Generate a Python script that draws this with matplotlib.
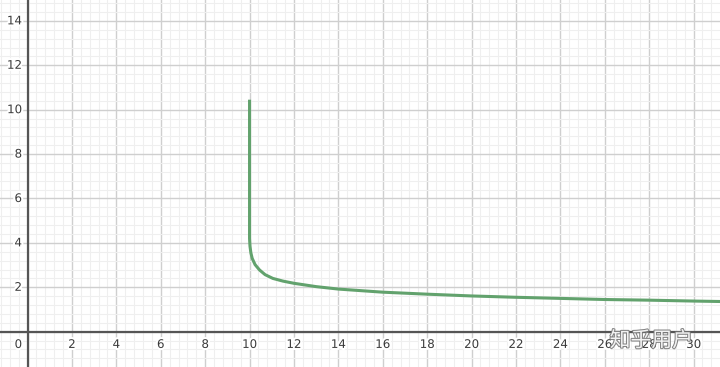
import matplotlib.pyplot as plt
from matplotlib.ticker import MultipleLocator
import matplotlib.patheffects as pe

# points
x_vals = [10.0, 10.0, 10.0, 10.02, 10.06, 10.12, 10.25, 10.45, 10.7, 11.05, 11.5,
          12.0, 13.0, 14.0, 16.0, 18.0, 20.0, 22.0, 24.0, 26.0, 28.0, 30.0, 31.2]
y_vals = [10.45, 6.0, 4.2, 3.85, 3.55, 3.3, 3.02, 2.78, 2.57, 2.4, 2.28,
          2.18, 2.03, 1.92, 1.78, 1.69, 1.61, 1.55, 1.5, 1.45, 1.42, 1.38, 1.36]

x_ticks = [2, 4, 6, 8, 10, 12, 14, 16, 18, 20, 22, 24, 26, 28, 30]
y_ticks = [2, 4, 6, 8, 10, 12, 14]

fig = plt.figure(figsize=(7.2, 3.67), dpi=100)
ax = fig.add_axes([0, 0, 1, 1])
ax.set_xlim(-1.24, 31.19)
ax.set_ylim(-1.59, 14.94)

ax.xaxis.set_major_locator(MultipleLocator(2))
ax.yaxis.set_major_locator(MultipleLocator(2))
ax.xaxis.set_minor_locator(MultipleLocator(0.4))
ax.yaxis.set_minor_locator(MultipleLocator(0.4))
ax.grid(which='minor', color='#efefef', lw=0.8)
ax.grid(which='major', color='#cfcfcf', lw=1.0)
ax.set_axisbelow(True)
ax.tick_params(which='both', length=0, labelbottom=False, labelleft=False)
for s in ax.spines.values():
    s.set_visible(False)

ax.axhline(0, color='#555555', lw=1.6, zorder=2)
ax.axvline(0, color='#555555', lw=1.6, zorder=2)

halo = [pe.withStroke(linewidth=3, foreground='white')]
for t in x_ticks:
    ax.text(t, -0.28, str(t), ha='center', va='top', fontsize=8.5,
            color='#3a3a3a', path_effects=halo, zorder=3)
for t in y_ticks:
    ax.text(-0.25, t, str(t), ha='right', va='center', fontsize=8.5,
            color='#3a3a3a', path_effects=halo, zorder=3)
ax.text(-0.25, -0.28, '0', ha='right', va='top', fontsize=8.5,
        color='#3a3a3a', path_effects=halo, zorder=3)

ax.plot(x_vals, y_vals, color='#62a26d', lw=2.2, solid_capstyle='butt', zorder=4)

# watermark
ax.text(28.1, -0.4, '知乎用户', ha='center', va='center', fontsize=15,
        family=['Noto Sans CJK SC', 'DejaVu Sans'], color='#ffffff', alpha=0.9,
        path_effects=[pe.withStroke(linewidth=1.5, foreground='#777777')], zorder=5)

plt.savefig('out.png', dpi=100)
